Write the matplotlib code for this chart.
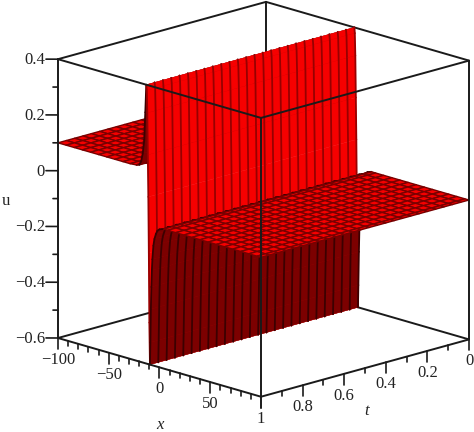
import numpy as np
import matplotlib
matplotlib.use("Agg")
import matplotlib.pyplot as plt
from mpl_toolkits.mplot3d import proj3d

plt.rcParams['font.family'] = ['Liberation Serif', 'DejaVu Serif']

# surface profile u(x), unchanged along t
x_values = [-100, -92, -84, -76, -68, -60, -52, -44, -36, -29, -23, -20, -18, -16.5, -15, -14, -13,
            -12.5, -12, -11.5, -11, -10.5, -10, -9.4, -9, -8.5, -8, -7.5, -7, -6, -5, -3.5, -2, 0,
            4, 8, 16, 24, 32, 40, 48, 56, 64, 72, 80, 88, 96, 100]
u_values = [0.1, 0.1, 0.1, 0.1, 0.1, 0.1, 0.1, 0.1, 0.1, 0.1, 0.102, 0.105, 0.12, 0.15, 0.2, 0.3, 0.4,
            0.38, 0.3, 0.15, 0.0, -0.2, -0.45, -0.6, -0.52, -0.4, -0.32, -0.26, -0.22, -0.17, -0.145, -0.125, -0.112, -0.105,
            -0.1, -0.1, -0.1, -0.1, -0.1, -0.1, -0.1, -0.1, -0.1, -0.1, -0.1, -0.1, -0.1, -0.1]
t_values = [0, .04, .08, .12, .16, .2, .24, .28, .32, .36, .4, .44, .48, .52, .56, .6, .64, .68, .72, .76, .8, .84, .88, .92, .96, 1]

x_major = [-100, -50, 0, 50]
x_minor = [-90, -80, -70, -60, -40, -30, -20, -10, 10, 20, 30, 40, 60, 70, 80, 90]
t_major = [0, 0.2, 0.4, 0.6, 0.8, 1]
t_minor = [0.1, 0.3, 0.5, 0.7, 0.9]
u_major = [-0.6, -0.4, -0.2, 0, 0.2, 0.4]
u_minor = [-0.5, -0.3, -0.1, 0.1, 0.3]
x_labels = ['\u2212100', '\u221250', '0', '50']
t_labels = ['0', '0.2', '0.4', '0.6', '0.8', '1']
u_labels = ['\u22120.6', '\u22120.4', '\u22120.2', '0', '0.2', '0.4']

RED = '#f60000'
DARK = '#7c0000'
RED_LINE = '#980000'
DARK_LINE = '#3c0000'
MESH = '#780000'
LINE = '#1a1a1a'
TEXT = '#222222'

W, H = 474, 432
fig = plt.figure(figsize=(W / 100, H / 100), dpi=100)
ax = fig.add_axes([-0.3, -0.3, 1.6, 1.6], projection='3d', proj_type='ortho', computed_zorder=False)
ax.set_axis_off()
ax.set_xlim(-100, 100)
ax.set_ylim(1, 0)
ax.set_zlim(-0.6, 0.4)
ax.view_init(elev=16.4, azim=-44.3)
ax.patch.set_alpha(0)


def px(x, t, u):
    xs, ys, _ = proj3d.proj_transform(x, t, u, ax.get_proj())
    return ax.transData.transform((xs, ys))


# fit the cube to the target corners (pixels, y from bottom)
ax.set_box_aspect((1, 1, 1), zoom=1)
fig.canvas.draw()
w = px(100, 0, -0.6)[0] - px(-100, 1, -0.6)[0]
ax.set_box_aspect((1, 1, 1), zoom=411 / w)
fig.canvas.draw()
a = px(-100, 1, -0.6)
pos = ax.get_position()
ax.set_position([pos.x0 + (58 - a[0]) / W, pos.y0 + ((H - 338) - a[1]) / H, pos.width, pos.height])
fig.canvas.draw()

X = np.array(x_values, dtype=float)
U = np.array(u_values, dtype=float)
T = np.array(t_values, dtype=float)


def line(p, q, z, lw=1.4, c=LINE):
    ax.plot([p[0], q[0]], [p[1], q[1]], [p[2], q[2]], color=c, lw=lw, zorder=z, solid_capstyle='round')


# back edges, behind the surface
for p, q in [((-100, 0, -.6), (-100, 0, .4)), ((-100, 0, -.6), (-100, 1, -.6)), ((-100, 0, -.6), (100, 0, -.6)),
             ((-100, 0, .4), (-100, 1, .4)), ((-100, 0, .4), (100, 0, .4))]:
    line(p, q, 1)

# strips in ascending x so that nearer strips paint over farther ones
for i in range(len(X) - 1):
    xx, tt = np.meshgrid(X[i:i + 2], T, indexing='ij')
    uu = np.repeat(U[i:i + 2, None], len(T), axis=1)
    du = U[i + 1] - U[i]
    rising = du > 0.004
    steep = abs(du) > 0.004
    col = DARK if rising else RED
    if steep:
        ax.plot_surface(xx, tt, uu, color=col, edgecolor=col, linewidth=0.3,
                        shade=False, rstride=1, cstride=1, zorder=10 + i)
        for t in T:
            line((X[i], t, U[i]), (X[i + 1], t, U[i + 1]), 10 + i, lw=1.3,
                 c=DARK_LINE if rising else RED_LINE)
    else:
        ax.plot_surface(xx, tt, uu, color=col, edgecolor=MESH, linewidth=1.0,
                        shade=False, rstride=1, cstride=1, zorder=10 + i)

# front edges and ticks, over the surface
zf = 200
for p, q in [((100, 1, -.6), (100, 1, .4)), ((-100, 1, -.6), (-100, 1, .4)), ((100, 0, -.6), (100, 0, .4)),
             ((-100, 1, -.6), (100, 1, -.6)), ((100, 1, -.6), (100, 0, -.6)),
             ((-100, 1, .4), (100, 1, .4)), ((100, 1, .4), (100, 0, .4))]:
    line(p, q, zf)

PU = 279.0  # pixels per unit of u
for v in x_major + [100]:
    line((v, 1, -.6), (v, 1, -.6 - 11 / PU), zf, lw=1.2)
for v in x_minor:
    line((v, 1, -.6), (v, 1, -.6 - 5 / PU), zf, lw=1.2)
for v in t_major:
    line((100, v, -.6), (100, v, -.6 - 11 / PU), zf, lw=1.2)
for v in t_minor:
    line((100, v, -.6), (100, v, -.6 - 5 / PU), zf, lw=1.2)
# u ticks point straight left on screen
for vals, L in ((u_major, 12), (u_minor, 5)):
    for v in vals:
        d = L / 411
        line((-100, 1, v), (-100 - 200 * d, 1 + d, v), zf, lw=1.2)

FS = 12
for v, s in zip(x_major, x_labels):
    p = px(v, 1, -.6)
    fig.text(p[0] / W, (p[1] - 22) / H, s, ha='center', va='center', fontsize=FS, color=TEXT)
for v, s in zip(t_major, t_labels):
    p = px(100, v, -.6)
    fig.text(min(p[0], W - 5) / W, (p[1] - 22) / H, s, ha='center', va='center', fontsize=FS, color=TEXT)
for v, s in zip(u_major, u_labels):
    p = px(-100, 1, v)
    fig.text((p[0] - 13) / W, (p[1] - 1) / H, s, ha='right', va='center', fontsize=FS, color=TEXT)

fig.text(160 / W, 1 - 425 / H, 'x', style='italic', ha='center', va='center', fontsize=FS, color=TEXT)
fig.text(367 / W, 1 - 411 / H, 't', style='italic', ha='center', va='center', fontsize=FS, color=TEXT)
fig.text(6 / W, 1 - 201 / H, 'u', ha='center', va='center', fontsize=FS, color=TEXT)

fig.savefig('out.png', dpi=100)
